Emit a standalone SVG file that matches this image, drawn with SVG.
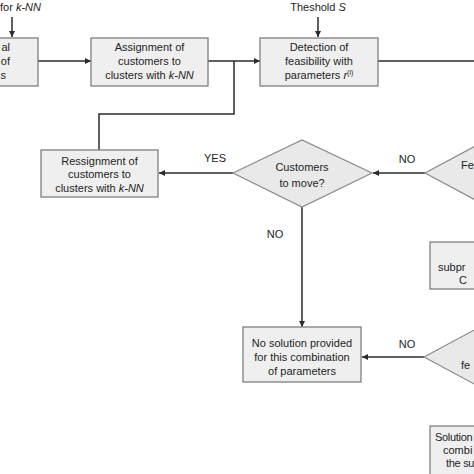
<svg xmlns="http://www.w3.org/2000/svg" width="474" height="474" viewBox="0 0 474 474">
<defs>
<marker id="ah" markerUnits="userSpaceOnUse" markerWidth="6" markerHeight="6" refX="6" refY="3" orient="auto">
<path d="M0,0 L6,3 L0,6 z" fill="#2b2b2b"/>
</marker>
<style>
.box{fill:#efefef;stroke:#7f7f7f;stroke-width:1.3}
.dia{fill:#e9e9e9;stroke:#8a8a8a;stroke-width:1.2}
.t{font-family:"Liberation Sans",Arial,sans-serif;font-size:11px;fill:#1e1e1e;text-anchor:middle}
.ts{font-family:"Liberation Sans",Arial,sans-serif;font-size:11px;fill:#1e1e1e}
.e{text-anchor:end}
.tight{letter-spacing:-0.3px}
.lbl{font-family:"Liberation Sans",Arial,sans-serif;font-size:11px;fill:#1e1e1e;text-anchor:middle}
.c{fill:none;stroke:#2b2b2b;stroke-width:1.5}
.a{marker-end:url(#ah)}
</style>
</defs>
<rect width="474" height="474" fill="#ffffff"/>

<g id="connectors">
<path class="c a" d="M12,17 V37"/>
<path class="c a" d="M38,61 H91"/>
<path class="c a" d="M208,61 H260"/>
<path class="c" d="M234,61 V114 H99 V150"/>
<path class="c a" d="M318,17 V37"/>
<path class="c" d="M378,61 H474"/>
<path class="c a" d="M425,173 H373"/>
<path class="c a" d="M233,173 H159"/>
<path class="c a" d="M302,207 V327"/>
<path class="c a" d="M424,357 H362"/>
</g>

<g id="labels">
<text class="ts" x="0" y="11">for <tspan font-style="italic">k-NN</tspan></text>
<text class="t" x="318" y="11">Theshold <tspan font-style="italic">S</tspan></text>
<text class="lbl" x="215" y="162">YES</text>
<text class="lbl" x="407" y="163">NO</text>
<text class="lbl" x="275" y="238">NO</text>
<text class="lbl" x="407" y="348">NO</text>
</g>

<g id="n1">
<rect class="box" x="-90" y="38" width="128" height="48"/>
<text class="ts e" x="10" y="51">al</text>
<text class="ts e" x="10" y="65">of</text>
<text class="ts e" x="6" y="79">s</text>
</g>

<g id="n2">
<rect class="box" x="91" y="38" width="117" height="48"/>
<text class="t" x="149.5" y="51">Assignment of</text>
<text class="t" x="149.5" y="65">customers to</text>
<text class="t" x="149.5" y="79">clusters with  <tspan font-style="italic">k-NN</tspan></text>
</g>

<g id="n3">
<rect class="box" x="260" y="38" width="118" height="48"/>
<text class="t" x="319" y="51">Detection of</text>
<text class="t" x="319" y="65">feasibility with</text>
<text class="t" x="319" y="79">parameters <tspan font-style="italic">r</tspan><tspan font-size="7" dy="-4">(l)</tspan></text>
</g>

<g id="n4">
<rect class="box" x="41" y="150" width="117" height="47"/>
<text class="t" x="99.5" y="164.5">Ressignment of</text>
<text class="t" x="99.5" y="178">customers to</text>
<text class="t" x="99.5" y="191.5">clusters with  <tspan font-style="italic">k-NN</tspan></text>
</g>

<g id="d1">
<polygon class="dia" points="233,173 302,140 372,173 302,207"/>
<text class="t" x="302" y="171">Customers</text>
<text class="t" x="302" y="186.5">to move?</text>
</g>

<g id="d2">
<polygon class="dia" points="425,173 494,136 563,173 494,210"/>
<text class="ts" x="461" y="169">Fe</text>
</g>

<g id="n5">
<rect class="box" x="430" y="242" width="80" height="47"/>
<text class="ts" x="438" y="271">subpr</text>
<text class="ts" x="459" y="284">C</text>
</g>

<g id="n6">
<rect class="box" x="243" y="327" width="118" height="55"/>
<text class="t" x="302" y="347">No solution provided</text>
<text class="t" x="302" y="361">for this combination</text>
<text class="t" x="302" y="375">of parameters</text>
</g>

<g id="d3">
<polygon class="dia" points="424,357 493,320 562,357 493,394"/>
<text class="ts" x="461" y="369">fe</text>
</g>

<g id="n7">
<rect class="box" x="430" y="426" width="80" height="60"/>
<text class="ts tight" x="435" y="441">Solution</text>
<text class="ts" x="443" y="454">combi</text>
<text class="ts tight" x="446" y="467">the su</text>
</g>
</svg>
